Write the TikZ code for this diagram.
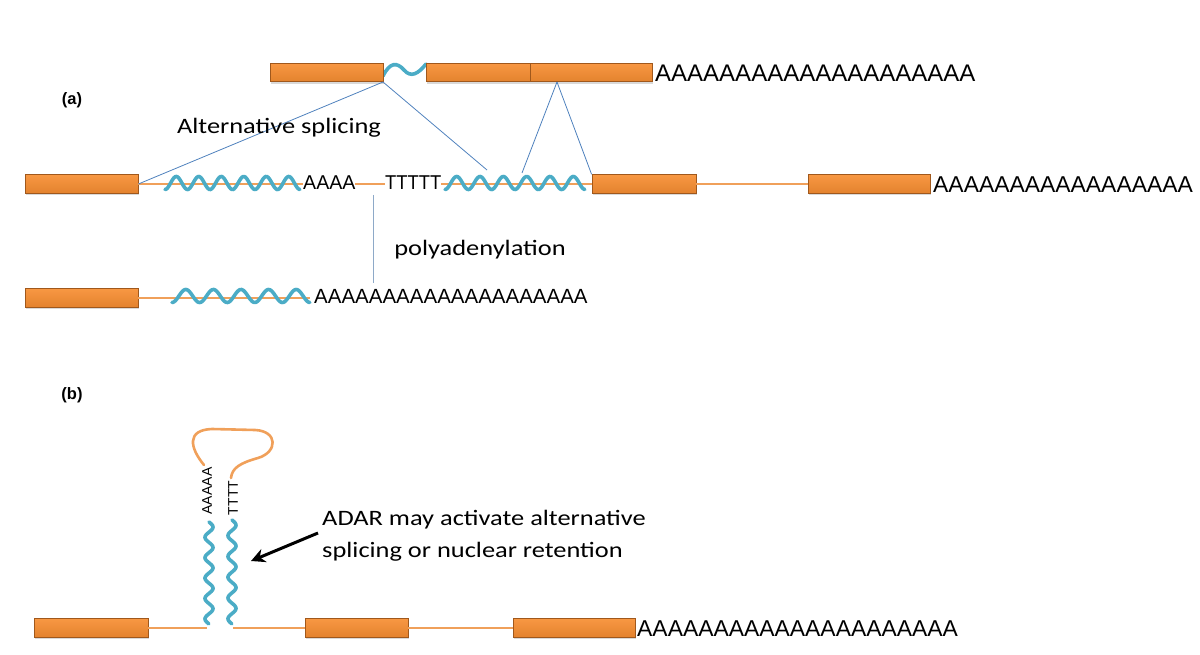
\documentclass[tikz,border=0pt]{standalone}
\usepackage{fontspec}
\setmainfont{Carlito}
\newfontfamily\arialf{Liberation Sans}
\usetikzlibrary{arrows.meta,shadows}
\definecolor{exonfill}{RGB}{247,142,50}
\definecolor{exondraw}{RGB}{160,88,28}
\definecolor{intron}{RGB}{240,160,90}
\definecolor{wavec}{RGB}{75,172,198}
\definecolor{linkc}{RGB}{79,129,189}
\definecolor{polyc}{RGB}{142,169,200}
\newcommand{\hwave}[4]{\draw[wave] plot[domain=0:1,samples=120] ({#1+(#2-#1)*\x},{#3+6.5*cos(360*#4*\x)});}
\newcommand{\vwave}[4]{\draw[wave] plot[domain=0:1,samples=120] ({#3+4*sin(360*#4*\x)},{#1+(#2-#1)*\x});}
\begin{document}
\begin{tikzpicture}[x=1pt,y=-1pt,
  exon/.style={rectangle,draw=exondraw,line width=0.8pt,top color=exonfill!92!white,bottom color=exonfill!92!black,minimum height=18.5pt,inner sep=0pt,drop shadow={shadow xshift=1pt,shadow yshift=-2pt,opacity=0.3}},
  intronl/.style={draw=intron,line width=2.6pt},
  wave/.style={draw=wavec,line width=3.6pt,line cap=round},
  link/.style={draw=linkc,line width=0.8pt},
  polya/.style={font=\arialf\fontsize{20}{22}\selectfont,inner sep=0pt,anchor=west},
  lab/.style={font=\fontsize{22}{25}\selectfont,inner sep=0pt,xscale=1.2},
  panel/.style={font=\arialf\bfseries\fontsize{16.5}{18}\selectfont,inner sep=0pt}]
\useasboundingbox (0,0) rectangle (1200,655);

% ---- panel labels
\node[panel] (pa) at (72,100) {(a)};
\node[panel] (pb) at (72,395) {(b)};

% ---- top row
\draw[wave] (383,76) .. controls (390,62) and (397,62) .. (404,70) .. controls (411,78) and (418,74) .. (426,64);
\node[exon,minimum width=113pt] (e1) at (326.5,72.5) {};
\node[exon,minimum width=104pt] (e2) at (478,72.5) {};
\node[exon,minimum width=122pt] (e3) at (591,72.5) {};
\node[polya,font=\arialf\fontsize{24}{26}\selectfont] (t1) at (655,73) {AAAAAAAAAAAAAAAAAAAA};

% ---- middle row
\node[exon,minimum width=113pt] (m1) at (81.5,184) {};
\node[exon,minimum width=104pt] (m2) at (644,184) {};
\node[exon,minimum width=122pt] (m3) at (869,184) {};
\draw[intronl] (m1.east) -- (m2.west);
\draw[intronl] (m2.east) -- (m3.west);
\hwave{165}{300}{183}{6}
\hwave{445}{585}{183}{6}
\node[polya,font=\arialf\fontsize{20}{22}\selectfont,xscale=0.98,fill=white,inner xsep=0pt] (ta) at (303,183) {AAAA};
\node[polya,font=\arialf\fontsize{20}{22}\selectfont,xscale=0.92,fill=white] (tt) at (385,183) {TTTTT};
\node[polya,font=\arialf\fontsize{22.9}{25}\selectfont] (t2) at (933,185) {AAAAAAAAAAAAAAAAA};

% ---- bottom row (a)
\node[exon,minimum width=113pt] (b1) at (81.5,298) {};
\coordinate (b1end) at (310,298);
\draw[intronl] (b1.east) -- (b1end);
\hwave{172}{310}{296}{5}
\node[polya,font=\arialf\fontsize{20.5}{22}\selectfont] (t3) at (314,296) {AAAAAAAAAAAAAAAAAAAA};

% ---- connectors
\coordinate (s1) at (383,82);
\coordinate (j1) at (487,170);
\coordinate (s2) at (557,82);
\coordinate (j2) at (522,173);
\coordinate (p1) at (373,195);
\coordinate (p2) at (373,283);
\draw[link] (s1) -- (m1.east);
\draw[link] (s1) -- (j1);
\draw[link] (s2) -- (j2);
\draw[link] (s2) -- (m2.north west);
\draw[draw=polyc,line width=1pt] (p1) -- (p2);

\node[lab] (altsp) at (279,128) {Alternative splicing};
\node[lab] (polyad) at (480,250) {polyadenylation};

% ---- panel (b)
\node[exon,minimum width=114pt] (c1) at (91,628) {};
\node[exon,minimum width=103pt] (c2) at (356.5,628) {};
\node[exon,minimum width=122pt] (c3) at (574,628) {};
\coordinate (g1) at (207,628);
\coordinate (g2) at (233,628);
\draw[intronl] (c1.east) -- (g1);
\draw[intronl] (g2) -- (c2.west);
\draw[intronl] (c2.east) -- (c3.west);
\node[polya,font=\arialf\fontsize{22.9}{25}\selectfont] (t4) at (637,629) {AAAAAAAAAAAAAAAAAAAAA};

\vwave{522}{624}{209}{5}
\vwave{520}{624}{232}{5}
\node[font=\arialf\fontsize{14}{15}\selectfont,rotate=90,inner sep=0pt] (sa) at (207,491) {AAAAA};
\node[font=\arialf\fontsize{14}{15}\selectfont,rotate=90,inner sep=0pt] (st) at (233,498) {TTTT};
\draw[draw=intron,line width=2.6pt,line cap=round] (204,465) .. controls (190,448) and (186,430) .. (212,429) -- (255,430) .. controls (278,431) and (278,452) .. (258,458) .. controls (240,463) and (232,468) .. (231,478);

\coordinate (ar1) at (318,533);
\coordinate (ar2) at (251,561);
\draw[line width=3pt,-{Stealth[length=14pt,width=14pt]}] (ar1) -- (ar2);
\node[lab,anchor=west,align=left,font=\fontsize{22}{32}\selectfont] (adar) at (322,536) {ADAR may activate alternative\\splicing or nuclear retention};
\end{tikzpicture}
\end{document}
